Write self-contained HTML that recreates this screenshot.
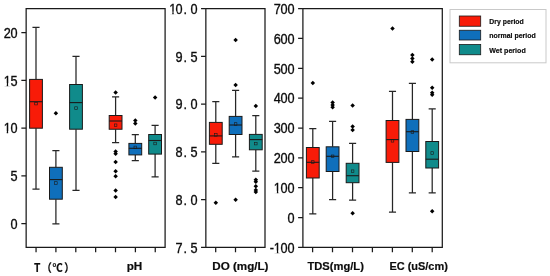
<!DOCTYPE html>
<html><head><meta charset="utf-8"><title>Box plot</title>
<style>html,body{margin:0;padding:0;background:#fff}svg{display:block}</style></head>
<body><svg width="550" height="276" viewBox="0 0 550 276">
<rect width="550" height="276" fill="#fff"/>
<path d="M26.15 8.6H165.1V247.4H26.15Z" fill="none" stroke="#1a1a1a" stroke-width="1.25"/>
<path d="M36.05 247.4v4.9M55.9 247.4v4.9M75.8 247.4v4.9M95.65 247.4v4.9M115.5 247.4v4.9M135.4 247.4v4.9M155.25 247.4v4.9M26.15 32.5h-4.8M26.15 80.3h-4.8M26.15 128.1h-4.8M26.15 175.9h-4.8M26.15 223.7h-4.8" fill="none" stroke="#1a1a1a" stroke-width="1.25"/>
<text transform="translate(0 37.70) scale(1 1.1)" x="3.68 10.48" y="0" font-family="'Liberation Sans',sans-serif" font-size="12.7" fill="#0c0c0c" stroke="#0c0c0c" stroke-width="0.3">20</text>
<text transform="translate(0 85.50) scale(1 1.1)" x="3.68 10.48" y="0" font-family="'Liberation Sans',sans-serif" font-size="12.7" fill="#0c0c0c" stroke="#0c0c0c" stroke-width="0.3">15</text>
<text transform="translate(0 133.30) scale(1 1.1)" x="3.68 10.48" y="0" font-family="'Liberation Sans',sans-serif" font-size="12.7" fill="#0c0c0c" stroke="#0c0c0c" stroke-width="0.3">10</text>
<text transform="translate(0 181.10) scale(1 1.1)" x="10.48" y="0" font-family="'Liberation Sans',sans-serif" font-size="12.7" fill="#0c0c0c" stroke="#0c0c0c" stroke-width="0.3">5</text>
<text transform="translate(0 228.90) scale(1 1.1)" x="10.48" y="0" font-family="'Liberation Sans',sans-serif" font-size="12.7" fill="#0c0c0c" stroke="#0c0c0c" stroke-width="0.3">0</text>
<path d="M36.0 27.4V79.4M36.0 128.2V189.2M32.45 27.4h7.1M32.45 189.2h7.1" fill="none" stroke="#262626" stroke-width="1.25"/>
<rect x="29.60" y="79.4" width="12.8" height="48.80" fill="#f81b08" stroke="#1a1a1a" stroke-width="1"/>
<path d="M29.60 101.7h12.8" stroke="#1a1a1a" stroke-width="1.1"/>
<rect x="34.70" y="102.30" width="2.6" height="2.6" fill="none" stroke="#1a1a1a" stroke-width="0.6"/>
<path d="M55.9 150.6V167.3M55.9 199.2V223.8M52.35 150.6h7.1M52.35 223.8h7.1" fill="none" stroke="#262626" stroke-width="1.25"/>
<rect x="49.50" y="167.3" width="12.8" height="31.90" fill="#0f6fbb" stroke="#1a1a1a" stroke-width="1"/>
<path d="M49.50 179.6h12.8" stroke="#1a1a1a" stroke-width="1.1"/>
<rect x="54.60" y="181.70" width="2.6" height="2.6" fill="none" stroke="#1a1a1a" stroke-width="0.6"/>
<path d="M55.9 110.95L58.15 113.2L55.9 115.45L53.65 113.2Z" fill="#000"/>
<path d="M76.0 56.3V84.5M76.0 129.2V190.3M72.45 56.3h7.1M72.45 190.3h7.1" fill="none" stroke="#262626" stroke-width="1.25"/>
<rect x="69.60" y="84.5" width="12.8" height="44.70" fill="#108b8b" stroke="#1a1a1a" stroke-width="1"/>
<path d="M69.60 102.6h12.8" stroke="#1a1a1a" stroke-width="1.1"/>
<rect x="74.70" y="106.80" width="2.6" height="2.6" fill="none" stroke="#1a1a1a" stroke-width="0.6"/>
<path d="M115.6 96.75V115.5M115.6 129.25V142.5M112.05 96.75h7.1M112.05 142.5h7.1" fill="none" stroke="#262626" stroke-width="1.25"/>
<rect x="109.20" y="115.5" width="12.8" height="13.75" fill="#f81b08" stroke="#1a1a1a" stroke-width="1"/>
<path d="M109.20 121h12.8" stroke="#1a1a1a" stroke-width="1.1"/>
<rect x="114.30" y="123.95" width="2.6" height="2.6" fill="none" stroke="#1a1a1a" stroke-width="0.6"/>
<path d="M115.6 90.15L117.85 92.4L115.6 94.65L113.35 92.4Z" fill="#000"/>
<path d="M115.6 149.15L117.85 151.4L115.6 153.65L113.35 151.4Z" fill="#000"/>
<path d="M115.6 151.45L117.85 153.7L115.6 155.95L113.35 153.7Z" fill="#000"/>
<path d="M115.6 159.75L117.85 162L115.6 164.25L113.35 162Z" fill="#000"/>
<path d="M115.6 169.0L117.85 171.25L115.6 173.5L113.35 171.25Z" fill="#000"/>
<path d="M115.6 174.0L117.85 176.25L115.6 178.5L113.35 176.25Z" fill="#000"/>
<path d="M115.6 188.25L117.85 190.5L115.6 192.75L113.35 190.5Z" fill="#000"/>
<path d="M115.6 194.75L117.85 197L115.6 199.25L113.35 197Z" fill="#000"/>
<path d="M135.3 134.5V143.4M135.3 154.9V160.7M131.75 134.5h7.1M131.75 160.7h7.1" fill="none" stroke="#262626" stroke-width="1.25"/>
<rect x="128.90" y="143.4" width="12.8" height="11.50" fill="#0f6fbb" stroke="#1a1a1a" stroke-width="1"/>
<path d="M128.90 148.3h12.8" stroke="#1a1a1a" stroke-width="1.1"/>
<rect x="134.00" y="146.10" width="2.6" height="2.6" fill="none" stroke="#1a1a1a" stroke-width="0.6"/>
<path d="M135.3 118.35L137.55 120.6L135.3 122.85L133.05 120.6Z" fill="#000"/>
<path d="M135.3 121.15L137.55 123.4L135.3 125.65L133.05 123.4Z" fill="#000"/>
<path d="M155.1 125.25V134.5M155.1 154.1V176.75M151.54999999999998 125.25h7.1M151.54999999999998 176.75h7.1" fill="none" stroke="#262626" stroke-width="1.25"/>
<rect x="148.70" y="134.5" width="12.8" height="19.60" fill="#108b8b" stroke="#1a1a1a" stroke-width="1"/>
<path d="M148.70 140.5h12.8" stroke="#1a1a1a" stroke-width="1.1"/>
<rect x="153.80" y="142.20" width="2.6" height="2.6" fill="none" stroke="#1a1a1a" stroke-width="0.6"/>
<path d="M155.1 95.25L157.35 97.5L155.1 99.75L152.85 97.5Z" fill="#000"/>
<path d="M205.85 8.6H265.0V247.4H205.85Z" fill="none" stroke="#1a1a1a" stroke-width="1.25"/>
<path d="M215.7 247.4v4.9M235.5 247.4v4.9M255.3 247.4v4.9M205.85 8.6h-4.8M205.85 56.36h-4.8M205.85 104.12h-4.8M205.85 151.88h-4.8M205.85 199.64h-4.8M205.85 247.4h-4.8" fill="none" stroke="#1a1a1a" stroke-width="1.25"/>
<text transform="translate(0 13.80) scale(1 1.1)" x="169.23 175.53 183.59 190.53" y="0" font-family="'Liberation Sans',sans-serif" font-size="12.7" fill="#0c0c0c" stroke="#0c0c0c" stroke-width="0.3">10.0</text>
<text transform="translate(0 61.56) scale(1 1.1)" x="175.53 183.59 190.53" y="0" font-family="'Liberation Sans',sans-serif" font-size="12.7" fill="#0c0c0c" stroke="#0c0c0c" stroke-width="0.3">9.5</text>
<text transform="translate(0 109.32) scale(1 1.1)" x="175.53 183.59 190.53" y="0" font-family="'Liberation Sans',sans-serif" font-size="12.7" fill="#0c0c0c" stroke="#0c0c0c" stroke-width="0.3">9.0</text>
<text transform="translate(0 157.08) scale(1 1.1)" x="175.53 183.59 190.53" y="0" font-family="'Liberation Sans',sans-serif" font-size="12.7" fill="#0c0c0c" stroke="#0c0c0c" stroke-width="0.3">8.5</text>
<text transform="translate(0 204.84) scale(1 1.1)" x="175.53 183.59 190.53" y="0" font-family="'Liberation Sans',sans-serif" font-size="12.7" fill="#0c0c0c" stroke="#0c0c0c" stroke-width="0.3">8.0</text>
<text transform="translate(0 252.60) scale(1 1.1)" x="175.53 183.59 190.53" y="0" font-family="'Liberation Sans',sans-serif" font-size="12.7" fill="#0c0c0c" stroke="#0c0c0c" stroke-width="0.3">7.5</text>
<path d="M215.8 101.5V122.4M215.8 144.3V163.4M212.25 101.5h7.1M212.25 163.4h7.1" fill="none" stroke="#262626" stroke-width="1.25"/>
<rect x="209.40" y="122.4" width="12.8" height="21.90" fill="#f81b08" stroke="#1a1a1a" stroke-width="1"/>
<path d="M209.40 135.9h12.8" stroke="#1a1a1a" stroke-width="1.1"/>
<rect x="214.50" y="133.60" width="2.6" height="2.6" fill="none" stroke="#1a1a1a" stroke-width="0.6"/>
<path d="M215.8 200.55L218.05 202.8L215.8 205.05L213.55 202.8Z" fill="#000"/>
<path d="M235.6 90.4V116.4M235.6 134.5V156.8M232.04999999999998 90.4h7.1M232.04999999999998 156.8h7.1" fill="none" stroke="#262626" stroke-width="1.25"/>
<rect x="229.20" y="116.4" width="12.8" height="18.10" fill="#0f6fbb" stroke="#1a1a1a" stroke-width="1"/>
<path d="M229.20 125.0h12.8" stroke="#1a1a1a" stroke-width="1.1"/>
<rect x="234.30" y="122.70" width="2.6" height="2.6" fill="none" stroke="#1a1a1a" stroke-width="0.6"/>
<path d="M235.6 37.85L237.85 40.1L235.6 42.35L233.35 40.1Z" fill="#000"/>
<path d="M235.6 82.85L237.85 85.1L235.6 87.35L233.35 85.1Z" fill="#000"/>
<path d="M235.6 197.55L237.85 199.8L235.6 202.05L233.35 199.8Z" fill="#000"/>
<path d="M255.8 115.6V134.4M255.8 149.8V171.2M252.25 115.6h7.1M252.25 171.2h7.1" fill="none" stroke="#262626" stroke-width="1.25"/>
<rect x="249.40" y="134.4" width="12.8" height="15.40" fill="#108b8b" stroke="#1a1a1a" stroke-width="1"/>
<path d="M249.40 139.6h12.8" stroke="#1a1a1a" stroke-width="1.1"/>
<rect x="254.50" y="142.30" width="2.6" height="2.6" fill="none" stroke="#1a1a1a" stroke-width="0.6"/>
<path d="M255.8 103.65L258.05 105.9L255.8 108.15L253.55 105.9Z" fill="#000"/>
<path d="M255.8 177.55L258.05 179.8L255.8 182.05L253.55 179.8Z" fill="#000"/>
<path d="M255.8 179.55L258.05 181.8L255.8 184.05L253.55 181.8Z" fill="#000"/>
<path d="M255.8 183.95L258.05 186.2L255.8 188.45L253.55 186.2Z" fill="#000"/>
<path d="M255.8 187.75L258.05 190.0L255.8 192.25L253.55 190.0Z" fill="#000"/>
<path d="M255.8 189.75L258.05 192.0L255.8 194.25L253.55 192.0Z" fill="#000"/>
<path d="M302.9 8.6H442.3V247.4H302.9Z" fill="none" stroke="#1a1a1a" stroke-width="1.25"/>
<path d="M312.6 247.4v4.9M332.5 247.4v4.9M352.5 247.4v4.9M372.4 247.4v4.9M392.4 247.4v4.9M412.3 247.4v4.9M432.2 247.4v4.9M302.9 8.6h-4.8M302.9 38.45h-4.8M302.9 68.3h-4.8M302.9 98.15h-4.8M302.9 128.0h-4.8M302.9 157.85h-4.8M302.9 187.7h-4.8M302.9 217.55h-4.8M302.9 247.4h-4.8" fill="none" stroke="#1a1a1a" stroke-width="1.25"/>
<text transform="translate(0 13.80) scale(1 1.1)" x="273.83 280.63 287.43" y="0" font-family="'Liberation Sans',sans-serif" font-size="12.7" fill="#0c0c0c" stroke="#0c0c0c" stroke-width="0.3">700</text>
<text transform="translate(0 43.65) scale(1 1.1)" x="273.83 280.63 287.43" y="0" font-family="'Liberation Sans',sans-serif" font-size="12.7" fill="#0c0c0c" stroke="#0c0c0c" stroke-width="0.3">600</text>
<text transform="translate(0 73.50) scale(1 1.1)" x="273.83 280.63 287.43" y="0" font-family="'Liberation Sans',sans-serif" font-size="12.7" fill="#0c0c0c" stroke="#0c0c0c" stroke-width="0.3">500</text>
<text transform="translate(0 103.35) scale(1 1.1)" x="273.83 280.63 287.43" y="0" font-family="'Liberation Sans',sans-serif" font-size="12.7" fill="#0c0c0c" stroke="#0c0c0c" stroke-width="0.3">400</text>
<text transform="translate(0 133.20) scale(1 1.1)" x="273.83 280.63 287.43" y="0" font-family="'Liberation Sans',sans-serif" font-size="12.7" fill="#0c0c0c" stroke="#0c0c0c" stroke-width="0.3">300</text>
<text transform="translate(0 163.05) scale(1 1.1)" x="273.83 280.63 287.43" y="0" font-family="'Liberation Sans',sans-serif" font-size="12.7" fill="#0c0c0c" stroke="#0c0c0c" stroke-width="0.3">200</text>
<text transform="translate(0 192.90) scale(1 1.1)" x="273.83 280.63 287.43" y="0" font-family="'Liberation Sans',sans-serif" font-size="12.7" fill="#0c0c0c" stroke="#0c0c0c" stroke-width="0.3">100</text>
<text transform="translate(0 222.75) scale(1 1.1)" x="287.43" y="0" font-family="'Liberation Sans',sans-serif" font-size="12.7" fill="#0c0c0c" stroke="#0c0c0c" stroke-width="0.3">0</text>
<text transform="translate(0 252.60) scale(1 1.1)" x="269.83 273.83 280.63 287.43" y="0" font-family="'Liberation Sans',sans-serif" font-size="12.7" fill="#0c0c0c" stroke="#0c0c0c" stroke-width="0.3">-100</text>
<path d="M312.8 128.6V147.5M312.8 178.0V213.8M309.25 128.6h7.1M309.25 213.8h7.1" fill="none" stroke="#262626" stroke-width="1.25"/>
<rect x="306.40" y="147.5" width="12.8" height="30.50" fill="#f81b08" stroke="#1a1a1a" stroke-width="1"/>
<path d="M306.40 162.3h12.8" stroke="#1a1a1a" stroke-width="1.1"/>
<rect x="311.50" y="160.70" width="2.6" height="2.6" fill="none" stroke="#1a1a1a" stroke-width="0.6"/>
<path d="M312.8 80.75L315.05 83.0L312.8 85.25L310.55 83.0Z" fill="#000"/>
<path d="M332.6 121.4V146.8M332.6 171.5V199.5M329.05 121.4h7.1M329.05 199.5h7.1" fill="none" stroke="#262626" stroke-width="1.25"/>
<rect x="326.20" y="146.8" width="12.8" height="24.70" fill="#0f6fbb" stroke="#1a1a1a" stroke-width="1"/>
<path d="M326.20 156.3h12.8" stroke="#1a1a1a" stroke-width="1.1"/>
<rect x="331.30" y="155.00" width="2.6" height="2.6" fill="none" stroke="#1a1a1a" stroke-width="0.6"/>
<path d="M332.6 100.25L334.85 102.5L332.6 104.75L330.35 102.5Z" fill="#000"/>
<path d="M332.6 102.65L334.85 104.9L332.6 107.15L330.35 104.9Z" fill="#000"/>
<path d="M332.6 105.05L334.85 107.3L332.6 109.55L330.35 107.3Z" fill="#000"/>
<path d="M352.6 143.3V163.3M352.6 182.7V200.2M349.05 143.3h7.1M349.05 200.2h7.1" fill="none" stroke="#262626" stroke-width="1.25"/>
<rect x="346.20" y="163.3" width="12.8" height="19.40" fill="#108b8b" stroke="#1a1a1a" stroke-width="1"/>
<path d="M346.20 175.7h12.8" stroke="#1a1a1a" stroke-width="1.1"/>
<rect x="351.30" y="169.90" width="2.6" height="2.6" fill="none" stroke="#1a1a1a" stroke-width="0.6"/>
<path d="M352.6 103.25L354.85 105.5L352.6 107.75L350.35 105.5Z" fill="#000"/>
<path d="M352.6 124.15L354.85 126.4L352.6 128.65L350.35 126.4Z" fill="#000"/>
<path d="M352.6 127.75L354.85 130L352.6 132.25L350.35 130Z" fill="#000"/>
<path d="M352.6 210.95L354.85 213.2L352.6 215.45L350.35 213.2Z" fill="#000"/>
<path d="M392.5 91.4V120.5M392.5 162.4V212.1M388.95 91.4h7.1M388.95 212.1h7.1" fill="none" stroke="#262626" stroke-width="1.25"/>
<rect x="386.10" y="120.5" width="12.8" height="41.90" fill="#f81b08" stroke="#1a1a1a" stroke-width="1"/>
<path d="M386.10 139.6h12.8" stroke="#1a1a1a" stroke-width="1.1"/>
<rect x="391.20" y="139.50" width="2.6" height="2.6" fill="none" stroke="#1a1a1a" stroke-width="0.6"/>
<path d="M392.5 26.35L394.75 28.6L392.5 30.85L390.25 28.6Z" fill="#000"/>
<path d="M412.4 83.4V119.4M412.4 151.5V192.9M408.84999999999997 83.4h7.1M408.84999999999997 192.9h7.1" fill="none" stroke="#262626" stroke-width="1.25"/>
<rect x="406.00" y="119.4" width="12.8" height="32.10" fill="#0f6fbb" stroke="#1a1a1a" stroke-width="1"/>
<path d="M406.00 131.7h12.8" stroke="#1a1a1a" stroke-width="1.1"/>
<rect x="411.10" y="130.70" width="2.6" height="2.6" fill="none" stroke="#1a1a1a" stroke-width="0.6"/>
<path d="M412.4 52.75L414.65 55.0L412.4 57.25L410.15 55.0Z" fill="#000"/>
<path d="M412.4 56.15L414.65 58.4L412.4 60.65L410.15 58.4Z" fill="#000"/>
<path d="M412.4 59.55L414.65 61.8L412.4 64.05L410.15 61.8Z" fill="#000"/>
<path d="M432.2 108.9V141.5M432.2 168.0V192.9M428.65 108.9h7.1M428.65 192.9h7.1" fill="none" stroke="#262626" stroke-width="1.25"/>
<rect x="425.80" y="141.5" width="12.8" height="26.50" fill="#108b8b" stroke="#1a1a1a" stroke-width="1"/>
<path d="M425.80 159.2h12.8" stroke="#1a1a1a" stroke-width="1.1"/>
<rect x="430.90" y="151.70" width="2.6" height="2.6" fill="none" stroke="#1a1a1a" stroke-width="0.6"/>
<path d="M432.2 57.25L434.45 59.5L432.2 61.75L429.95 59.5Z" fill="#000"/>
<path d="M432.2 85.45L434.45 87.7L432.2 89.95L429.95 87.7Z" fill="#000"/>
<path d="M432.2 90.55L434.45 92.8L432.2 95.05L429.95 92.8Z" fill="#000"/>
<path d="M432.2 92.55L434.45 94.8L432.2 97.05L429.95 94.8Z" fill="#000"/>
<path d="M432.2 208.95L434.45 211.2L432.2 213.45L429.95 211.2Z" fill="#000"/>
<path d="M3.65 83.31H6.73v3.09H3.65ZM8.15 83.31H11.13v3.09H8.15ZM3.65 131.11H6.73v3.09H3.65ZM8.15 131.11H11.13v3.09H8.15ZM169.20 11.61H172.28v3.09H169.20ZM173.70 11.61H176.68v3.09H173.70ZM273.80 190.71H276.88v3.09H273.80ZM278.30 190.71H281.28v3.09H278.30ZM273.80 250.41H276.88v3.09H273.80ZM278.30 250.41H281.28v3.09H278.30Z" fill="#fff"/>
<rect x="450" y="9.5" width="96" height="53.3" fill="#fff" stroke="#c9c9c9" stroke-width="1"/>
<rect x="459.3" y="16" width="21.4" height="10.25" fill="#f81b08" stroke="#1a1a1a" stroke-width="0.8"/>
<text x="489.3" y="23.6" textLength="34.4" lengthAdjust="spacingAndGlyphs" font-family="'Liberation Sans',sans-serif" font-weight="bold" font-size="8" fill="#0c0c0c" stroke="#0c0c0c" stroke-width="0.2">Dry period</text>
<rect x="459.3" y="30.25" width="21.4" height="9.75" fill="#0f6fbb" stroke="#1a1a1a" stroke-width="0.8"/>
<text x="489.3" y="37.6" textLength="46.4" lengthAdjust="spacingAndGlyphs" font-family="'Liberation Sans',sans-serif" font-weight="bold" font-size="8" fill="#0c0c0c" stroke="#0c0c0c" stroke-width="0.2">normal period</text>
<rect x="459.3" y="44.5" width="21.4" height="10.25" fill="#108b8b" stroke="#1a1a1a" stroke-width="0.8"/>
<text x="489.3" y="52.9" textLength="36.4" lengthAdjust="spacingAndGlyphs" font-family="'Liberation Sans',sans-serif" font-weight="bold" font-size="8" fill="#0c0c0c" stroke="#0c0c0c" stroke-width="0.2">Wet period</text>
<text transform="translate(0 272.3) scale(1 1.1)" x="33.9 41.6 52.4 64.2" y="0" font-family="'Noto Sans CJK SC','Liberation Sans',sans-serif" font-weight="bold" font-size="10.3" fill="#0c0c0c" stroke="#0c0c0c" stroke-width="0.15">T（℃）</text>
<text x="126.7" y="269.9" textLength="15.6" lengthAdjust="spacingAndGlyphs" font-family="'Liberation Sans','Noto Sans CJK SC',sans-serif" font-weight="bold" font-size="11.6" fill="#0c0c0c" stroke="#0c0c0c" stroke-width="0.2">pH</text>
<text x="212.3" y="269.9" textLength="56.2" lengthAdjust="spacingAndGlyphs" font-family="'Liberation Sans','Noto Sans CJK SC',sans-serif" font-weight="bold" font-size="11.6" fill="#0c0c0c" stroke="#0c0c0c" stroke-width="0.2">DO (mg/L)</text>
<text x="307.5" y="269.9" textLength="56.4" lengthAdjust="spacingAndGlyphs" font-family="'Liberation Sans','Noto Sans CJK SC',sans-serif" font-weight="bold" font-size="11.6" fill="#0c0c0c" stroke="#0c0c0c" stroke-width="0.2">TDS(mg/L)</text>
<text x="389.4" y="269.9" textLength="58.4" lengthAdjust="spacingAndGlyphs" font-family="'Liberation Sans','Noto Sans CJK SC',sans-serif" font-weight="bold" font-size="11.6" fill="#0c0c0c" stroke="#0c0c0c" stroke-width="0.2">EC (uS/cm)</text>
</svg></body></html>
